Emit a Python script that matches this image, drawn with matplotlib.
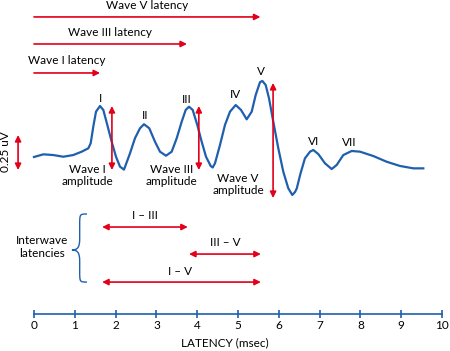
import numpy as np
import matplotlib.pyplot as plt
from matplotlib.path import Path
from matplotlib.patches import PathPatch

# ABR waveform: latency (msec) and amplitude (uV)
wave_t = [0.0, 0.228, 0.473, 0.718, 0.963, 1.169, 1.331, 1.390, 1.453, 1.520, 1.618, 1.699,
          1.797, 1.904, 2.010, 2.108, 2.206, 2.353, 2.475, 2.598, 2.696, 2.826, 2.966, 3.088,
          3.235, 3.375, 3.498, 3.620, 3.718, 3.799, 3.890, 4.002, 4.110, 4.216, 4.331, 4.38,
          4.436, 4.559, 4.681, 4.804, 4.944, 5.074, 5.213, 5.336, 5.434, 5.539, 5.596, 5.679,
          5.760, 5.865, 5.988, 6.110, 6.233, 6.331, 6.397, 6.44, 6.53, 6.64, 6.765, 6.846,
          6.968, 7.132, 7.297, 7.419, 7.581, 7.787, 7.990, 8.316, 8.645, 8.971, 9.297, 9.542]
wave_a = [0.0, 0.019, 0.014, 0.002, 0.014, 0.038, 0.062, 0.098, 0.216, 0.324, 0.364, 0.336,
          0.229, 0.109, 0.002, -0.069, -0.09, 0.026, 0.134, 0.205, 0.234, 0.205, 0.109, 0.038,
          0.009, 0.038, 0.134, 0.252, 0.336, 0.359, 0.336, 0.229, 0.109, 0.002, -0.064, -0.075,
          -0.045, 0.086, 0.229, 0.324, 0.371, 0.336, 0.269, 0.324, 0.443, 0.534, 0.543, 0.514,
          0.419, 0.252, 0.062, -0.105, -0.224, -0.271, -0.25, -0.225, -0.12, -0.01, 0.038, 0.05,
          0.021, -0.045, -0.086, -0.057, 0.014, 0.043, 0.038, 0.007, -0.034, -0.064, -0.081, -0.081]

peak_names = ["I", "II", "III", "IV", "V", "VI", "VII"]
peak_t = [1.64, 2.72, 3.75, 4.93, 5.56, 6.86, 7.72]
peak_label_a = [0.421, 0.293, 0.407, 0.443, 0.614, 0.114, 0.107]

latency_names = ["Wave V latency", "Wave III latency", "Wave I latency"]
latency_end = [5.55, 3.75, 1.62]
latency_row = [1.0, 0.807, 0.60]

amp_t = [1.91, 4.04, 5.86]
amp_top = [0.364, 0.364, 0.529]
amp_bottom = [-0.093, -0.093, -0.293]
amp_names = ["Wave I\namplitude", "Wave III\namplitude", "Wave V\namplitude"]

inter_names = ["I \u2013 III", "III \u2013 V", "I \u2013 V"]
inter_start = [1.67, 3.80, 1.67]
inter_end = [3.77, 5.56, 5.56]
inter_row = [-0.50, -0.693, -0.893]

RED = "#e2001a"
BLUE = "#1f5fae"

plt.rcParams['font.family'] = ['Lato', 'DejaVu Sans']
fs = 8.5

fig = plt.figure(figsize=(4.5, 3.51), dpi=100)
ax = fig.add_axes([0, 37 / 351, 1, 314 / 351])
ax.set_xlim(-0.833, 10.196)
ax.set_ylim(-1.121, 1.121)

ax.plot(wave_t, wave_a, color=BLUE, lw=1.6, solid_joinstyle='round')


def arrow(x0, y0, x1, y1, style='-|>'):
    ax.annotate('', xy=(x1, y1), xytext=(x0, y0),
                arrowprops=dict(arrowstyle=style, color=RED, lw=1.2,
                                mutation_scale=9, shrinkA=0, shrinkB=0))


# latency arrows from stimulus onset
for name, end, row in zip(latency_names, latency_end, latency_row):
    arrow(0, row, end, row)
ax.text(2.77, 1.079, latency_names[0], ha='center', va='center', fontsize=fs)
ax.text(1.86, 0.886, latency_names[1], ha='center', va='center', fontsize=fs)
ax.text(0.81, 0.686, latency_names[2], ha='center', va='center', fontsize=fs)

# peak labels
for name, t, a in zip(peak_names, peak_t, peak_label_a):
    ax.text(t, a, name, ha='center', va='center', fontsize=fs)

# amplitude arrows
for t, top, bot in zip(amp_t, amp_top, amp_bottom):
    arrow(t, bot, t, top, '<|-|>')
ax.text(1.30, -0.132, amp_names[0], ha='center', va='center', fontsize=fs, linespacing=1.2)
ax.text(3.38, -0.132, amp_names[1], ha='center', va='center', fontsize=fs, linespacing=1.2)
ax.text(5.00, -0.196, amp_names[2], ha='center', va='center', fontsize=fs, linespacing=1.2)

# calibration bar
arrow(-0.39, -0.093, -0.39, 0.157, '<|-|>')
ax.text(-0.69, 0.036, "0.25 uV", rotation=90, ha='center', va='center', fontsize=fs)

# interwave latencies
for s, e, row in zip(inter_start, inter_end, inter_row):
    arrow(s, row, e, row, '<|-|>')
ax.text(2.72, -0.421, inter_names[0], ha='center', va='center', fontsize=fs)
ax.text(4.68, -0.614, inter_names[1], ha='center', va='center', fontsize=fs)
ax.text(3.58, -0.821, inter_names[2], ha='center', va='center', fontsize=fs)

# curly brace
xb, xm, xt = 1.30, 1.12, 0.93
yt, ymid, yb = -0.407, -0.664, -0.893
verts = [(xb, yt),
         (xm, yt), (xm, yt), (xm, yt - 0.08),
         (xm, ymid + 0.08),
         (xm, ymid + 0.02), (xm - 0.05, ymid), (xt, ymid),
         (xm - 0.05, ymid), (xm, ymid - 0.02), (xm, ymid - 0.08),
         (xm, yb + 0.08),
         (xm, yb), (xm, yb), (xb, yb)]
codes = [Path.MOVETO,
         Path.CURVE4, Path.CURVE4, Path.CURVE4,
         Path.LINETO,
         Path.CURVE4, Path.CURVE4, Path.CURVE4,
         Path.CURVE4, Path.CURVE4, Path.CURVE4,
         Path.LINETO,
         Path.CURVE4, Path.CURVE4, Path.CURVE4]
ax.add_patch(PathPatch(Path(verts, codes), fc='none', ec=BLUE, lw=1.0))
ax.text(0.20, -0.643, "Interwave\nlatencies", ha='center', va='center', fontsize=fs, linespacing=1.25)

# x axis
for side in ['left', 'right', 'top']:
    ax.spines[side].set_visible(False)
ax.spines['bottom'].set_color(BLUE)
ax.spines['bottom'].set_linewidth(1.2)
ax.spines['bottom'].set_bounds(0, 10)
ax.set_yticks([])
ax.set_xticks(np.arange(0, 11))
ax.tick_params(axis='x', direction='inout', length=6, width=1.2, color=BLUE,
               labelsize=fs, pad=1.5)
ax.set_xlabel("LATENCY (msec)", fontsize=fs, labelpad=4)
ax.patch.set_alpha(0)

fig.savefig("out.png", dpi=100)
